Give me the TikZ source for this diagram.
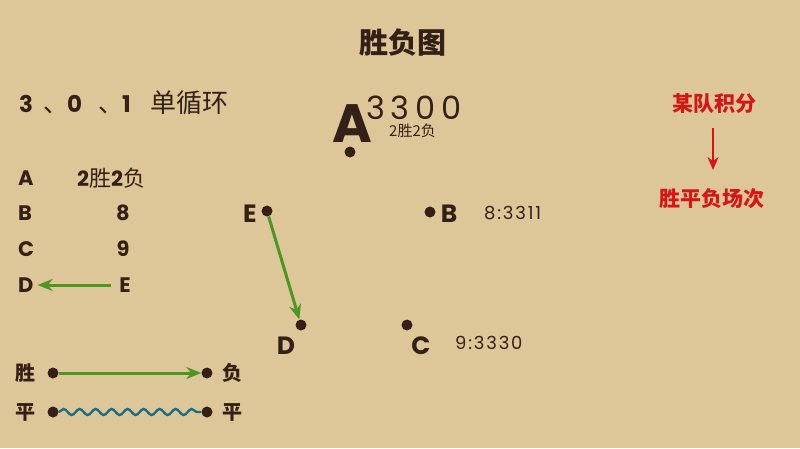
\documentclass[tikz,border=0pt]{standalone}
\usepackage{fontspec}
\setmainfont{Noto Sans CJK SC}
\newfontfamily\latinf{Poppins}
\newfontfamily\latinsp[LetterSpace=18]{Poppins}
\newfontfamily\latinmid[LetterSpace=10]{Poppins}
\usetikzlibrary{arrows.meta,decorations.pathmorphing}
\definecolor{paper}{RGB}{221,199,152}
\definecolor{ink}{RGB}{52,32,22}
\definecolor{grn}{RGB}{78,150,34}
\definecolor{redc}{RGB}{212,22,22}
\definecolor{wave}{RGB}{30,110,130}
\newcommand{\cjkn}{\normalfont}
\tikzset{
  txt/.style={text=ink, inner sep=0pt, font=\fontsize{20}{22}\selectfont},
  ltr/.style={text=ink, inner sep=0pt},
  pt/.style={circle, fill=ink, inner sep=0pt, minimum size=11pt},
  garrow/.style={draw=grn, line width=3pt, -{Stealth[length=15pt,width=12pt]}},
  rtxt/.style={text=redc, inner sep=0pt, font=\bfseries\fontsize{21}{23}\selectfont},
}
\begin{document}
\begin{tikzpicture}[x=1pt,y=-1pt]
\fill[paper] (0,0) rectangle (800,448);
\useasboundingbox (0,0) rectangle (800,448);
% title
\node[txt, font=\bfseries\fontsize{29}{31}\selectfont] (title) at (403,43) {胜负图};
% left column
\node[txt, anchor=west, font=\fontsize{25}{27}\selectfont] (head) at (19,103)
  {\makebox[24pt][l]{\latinf\bfseries\fontsize{23}{25}\selectfont 3}\makebox[24pt][l]{\cjkn 、}\makebox[31pt][l]{\latinf\bfseries\fontsize{23}{25}\selectfont 0}\makebox[24pt][l]{\cjkn 、}\makebox[28pt][l]{\latinf\bfseries\fontsize{23}{25}\selectfont 1}\cjkn\fontsize{26}{28}\selectfont 单循环};
\node[ltr, anchor=west, font=\latinf\bfseries\fontsize{21}{23}\selectfont] (lA) at (18,178) {A};
\node[txt, anchor=west, font=\latinf\bfseries\fontsize{21}{23}\selectfont] (vA) at (77,178) {2{\cjkn\fontsize{22}{24}\selectfont 胜}2{\cjkn\fontsize{22}{24}\selectfont 负}};
\node[ltr, anchor=west, font=\latinf\bfseries\fontsize{21}{23}\selectfont] (lB) at (18,213) {B};
\node[ltr, font=\latinf\bfseries\fontsize{21}{23}\selectfont] (vB) at (123,213) {8};
\node[ltr, anchor=west, font=\latinf\bfseries\fontsize{21}{23}\selectfont] (lC) at (18,249) {C};
\node[ltr, font=\latinf\bfseries\fontsize{21}{23}\selectfont] (vC) at (123,249) {9};
\node[ltr, anchor=west, font=\latinf\bfseries\fontsize{21}{23}\selectfont] (lD) at (18,285) {D};
\node[ltr, font=\latinf\bfseries\fontsize{21}{23}\selectfont] (lE) at (125,285) {E};
\draw[garrow] ([xshift=-8pt]lE.west) -- ([xshift=4pt]lD.east);
% big A
\node[ltr, font=\latinf\bfseries\fontsize{54}{56}\selectfont] (bigA) at (352,124) {A};
\node[pt] (dA) at (350,152) {};
\node[ltr, anchor=west, font=\latinsp\fontsize{32}{34}\selectfont] (sA) at (366,108) {3300};
\node[txt, anchor=west, font=\fontsize{15}{17}\selectfont] (sA2) at (389,131) {2胜2负};
% graph points
\node[pt] (dE) at (267,211) {};
\node[ltr, font=\latinf\bfseries\fontsize{25}{27}\selectfont] (nE) at (250,214) {E};
\node[pt] (dB) at (430,212) {};
\node[ltr, font=\latinf\bfseries\fontsize{25}{27}\selectfont] (nB) at (449,214) {B};
\node[ltr, anchor=west, font=\latinmid\fontsize{18}{20}\selectfont] (sB) at (484,213) {8:3311};
\node[pt] (dD) at (301,325) {};
\node[ltr, font=\latinf\bfseries\fontsize{25}{27}\selectfont] (nD) at (286,346) {D};
\node[pt] (dC) at (407,325) {};
\node[ltr, font=\latinf\bfseries\fontsize{25}{27}\selectfont] (nC) at (421,346) {C};
\node[ltr, anchor=west, font=\latinmid\fontsize{18}{20}\selectfont] (sC) at (455,343) {9:3330};
\draw[garrow] (dE) -- (dD);
% red
\node[rtxt] (r1) at (714,104) {某队积分};
\node[rtxt] (r2) at (712,199) {胜平负场次};
\coordinate (ra) at (713,128);
\coordinate (rb) at (713,170);
\draw[draw=redc, line width=2.6pt, -{Stealth[length=13pt,width=11pt]}] (ra) -- (rb);
% legend
\node[txt, font=\bfseries\fontsize{20}{22}\selectfont] (w1) at (25,373) {胜};
\node[pt] (wd1) at (53,373) {};
\node[pt] (wd2) at (207,373) {};
\node[txt, font=\bfseries\fontsize{20}{22}\selectfont] (w2) at (232,373) {负};
\draw[garrow] (wd1) -- (wd2);
\node[txt, font=\bfseries\fontsize{20}{22}\selectfont] (p1) at (25,412) {平};
\node[pt] (pd1) at (53,412) {};
\node[pt] (pd2) at (207,412) {};
\node[txt, font=\bfseries\fontsize{20}{22}\selectfont] (p2) at (232,412) {平};
\draw[draw=wave, line width=2.4pt, decorate, decoration={snake, amplitude=3pt, segment length=16pt}] (pd1) -- (pd2);
\end{tikzpicture}
\end{document}
